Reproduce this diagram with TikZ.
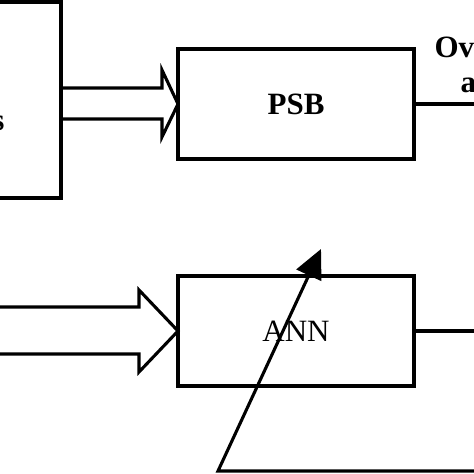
\documentclass[tikz,border=0pt]{standalone}
\usepackage{fontspec}
\setmainfont{Liberation Serif}
\usetikzlibrary{arrows.meta,calc}
\begin{document}
\begin{tikzpicture}[x=1pt,y=-1pt,
  line width=3.1pt,
  box/.style={draw,rectangle,inner sep=0pt,outer sep=0pt,minimum width=236pt,minimum height=110pt},
  bigtxt/.style={font=\fontsize{31}{36}\selectfont},
  boldtxt/.style={font=\fontsize{31}{36}\selectfont\bfseries},
  fat/.style={draw,line join=miter},
  wire/.style={draw}
]
\useasboundingbox (0,0) rectangle (474,474);
\clip (0,0) rectangle (474,474);
\fill[white] (0,0) rectangle (474,474);
% boxes
\node[box,minimum width=121pt,minimum height=196pt] (inp) at (0.5,100) {};
\node[boldtxt,anchor=base east,inner sep=0pt] (inptxt) at (6,130) {s};
\node[box,boldtxt] (psb) at (296,104) {PSB};
\node[box,bigtxt] (ann) at (296,331) {ANN};
% texts at right
\node[boldtxt,anchor=base west,inner sep=0pt] (o1) at (433,57) {Ove};
\node[boldtxt,anchor=base west,inner sep=0pt] (o2) at (459,92) {a};
% coordinates
\coordinate (src2) at (-10,331);
\coordinate (out1) at (485,104);
\coordinate (out2) at (485,331);
\coordinate (fbR) at (485,471);
\coordinate (fbL) at (218,471);
\coordinate (tipc) at (321,249);
% top fat arrow
\draw[fat] ($(inp.east)+(0,-12)$) -- ($(psb.west)+(-16,-16)$) -- ($(psb.west)+(-16,-34)$)
  -- (psb.west) -- ($(psb.west)+(-16,33)$) -- ($(psb.west)+(-16,15)$) -- ($(inp.east)+(0,19)$);
% bottom fat arrow
\draw[fat] (src2 |- 0,307) -- ($(ann.west)+(-39,-24)$) -- ($(ann.west)+(-39,-41)$)
  -- (ann.west) -- ($(ann.west)+(-39,41)$) -- ($(ann.west)+(-39,23)$) -- (src2 |- 0,354);
% outputs
\draw[wire] (psb.east) -- (out1);
\draw[wire] (ann.east) -- (out2);
% feedback
\draw[wire,-{Triangle[length=29pt,width=27pt]}] (fbR) -- (fbL) -- (tipc);
\end{tikzpicture}
\end{document}
